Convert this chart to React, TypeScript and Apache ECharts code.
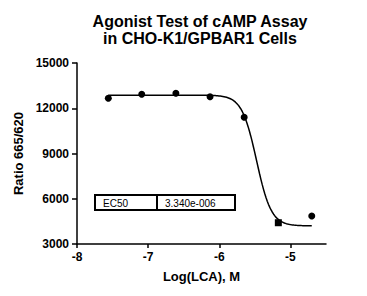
import React, { useEffect, useRef } from "react";
import * as echarts from "echarts";

// Measured points: log concentration (M) and ratio 665/620
const logConc = [-7.56, -7.09, -6.61, -6.13, -5.65, -5.17, -4.70];
const ratioValues = [12660, 12925, 12990, 12765, 11400, null, 4855];
const squarePoint = [-5.17, 4410];

// 4-parameter logistic fit (as reported)
const fitTop = 12870;
const fitBottom = 4200;
const fitEC50 = 3.34e-6;
const fitHill = 4.2;
const fitRange = [-7.56, -4.7];

const yTicks = [3000, 6000, 9000, 12000, 15000];
const xTicks = [-8, -7, -6, -5];

const FONT = "'Liberation Sans', Arial, sans-serif";

export default function App() {
  const ref = useRef<HTMLDivElement>(null);
  useEffect(() => {
    if (!ref.current) return;
    const chart = echarts.init(ref.current, undefined, { renderer: "svg" });
    const logEC50 = Math.log10(fitEC50);
    const curve: number[][] = [];
    const n = 160;
    for (let i = 0; i <= n; i++) {
      const x = fitRange[0] + ((fitRange[1] - fitRange[0]) * i) / n;
      const y = fitBottom + (fitTop - fitBottom) / (1 + Math.pow(10, (x - logEC50) * fitHill));
      curve.push([x, y]);
    }
    const pts = logConc
      .map((x, i) => [x, ratioValues[i]])
      .filter((p) => p[1] !== null);
    chart.setOption({
      animation: false,
      backgroundColor: "#ffffff",
      textStyle: { fontFamily: FONT },
      grid: { left: 77, right: 41, top: 63, bottom: 52 },
      xAxis: {
        type: "value",
        min: -8,
        max: -4.5,
        interval: 1,
        name: "Log(LCA), M",
        nameLocation: "middle",
        nameGap: 26,
        nameTextStyle: { fontFamily: FONT, fontSize: 13, fontWeight: "bold", color: "#000" },
        axisLine: { onZero: false, lineStyle: { color: "#000", width: 1.5 } },
        axisTick: { show: true, length: 4, customValues: xTicks, lineStyle: { color: "#000", width: 1.5 } },
        axisLabel: {
          customValues: xTicks,
          margin: 7,
          fontFamily: FONT,
          fontSize: 12,
          fontWeight: "bold",
          color: "#000",
          formatter: (v: number) => String(v),
        },
        splitLine: { show: false },
      },
      yAxis: {
        type: "value",
        min: 3000,
        max: 15000,
        interval: 3000,
        name: "Ratio 665/620",
        nameLocation: "middle",
        nameGap: 46,
        nameTextStyle: { fontFamily: FONT, fontSize: 13, fontWeight: "bold", color: "#000" },
        axisLine: { show: true, onZero: false, lineStyle: { color: "#000", width: 1.5 } },
        axisTick: { show: true, length: 5, customValues: yTicks, lineStyle: { color: "#000", width: 1.5 } },
        axisLabel: {
          customValues: yTicks,
          margin: 8,
          fontFamily: FONT,
          fontSize: 12,
          fontWeight: "bold",
          color: "#000",
          formatter: (v: number) => String(v),
        },
        splitLine: { show: false },
      },
      graphic: [
        {
          type: "text",
          x: 200,
          y: 13,
          style: {
            text: "Agonist Test of cAMP Assay\nin CHO-K1/GPBAR1 Cells",
            fontFamily: FONT,
            fontSize: 16,
            fontWeight: "bold",
            fill: "#000",
            align: "center",
            lineHeight: 17,
          },
        },
        {
          type: "group",
          children: [
            { type: "rect", shape: { x: 95, y: 195, width: 140, height: 15 }, style: { fill: "#fff", stroke: "#000", lineWidth: 2 } },
            { type: "line", shape: { x1: 157, y1: 195, x2: 157, y2: 210 }, style: { stroke: "#000", lineWidth: 2 } },
            { type: "text", x: 103, y: 203, style: { text: "EC50", fontFamily: FONT, fontSize: 10, fill: "#000", verticalAlign: "middle" } },
            { type: "text", x: 165, y: 203, style: { text: "3.340e-006", fontFamily: FONT, fontSize: 10, fill: "#000", verticalAlign: "middle" } },
          ],
        },
      ],
      series: [
        {
          type: "line",
          data: curve,
          showSymbol: false,
          symbol: "none",
          lineStyle: { color: "#000", width: 1.5 },
          z: 2,
        },
        {
          type: "scatter",
          data: pts,
          symbol: "circle",
          symbolSize: 7,
          itemStyle: { color: "#000", opacity: 1 },
          z: 3,
        },
        {
          type: "scatter",
          data: [squarePoint],
          symbol: "rect",
          symbolSize: 7,
          itemStyle: { color: "#000", opacity: 1 },
          z: 3,
        },
      ],
    });
    return () => chart.dispose();
  }, []);
  return (
    <div
      ref={ref}
      style={{ position: "fixed", left: 0, top: 0, width: 367, height: 296, background: "#fff" }}
    />
  );
}
